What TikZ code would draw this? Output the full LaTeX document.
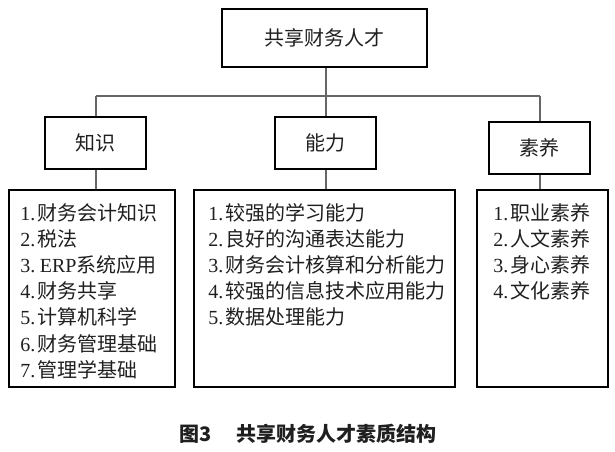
\documentclass[tikz,border=0pt]{standalone}
\usepackage{fontspec}
\setmainfont{Liberation Serif}
\newfontfamily\cjk{Noto Sans CJK SC}
\newcommand{\nm}[1]{#1.\hspace{1.5pt}}
\begin{document}
\begin{tikzpicture}[x=0.75pt,y=-0.75pt,
  txt/.style={font=\fontsize{15pt}{18pt}\selectfont, text=black!88, inner sep=0pt},
  topbox/.style={draw, line width=2.2pt, inner sep=0pt, minimum width=205*0.75pt, minimum height=58*0.75pt},
  midbox/.style={draw, line width=1.4pt, inner sep=0pt, minimum width=101*0.75pt, minimum height=52*0.75pt},
  listbox/.style={draw, line width=1.6pt, inner sep=0pt},
  conn/.style={draw=black!60, line width=0.8pt},
  item/.style={txt, anchor=base west}]
\useasboundingbox (0,0) rectangle (615,451);
% top
\node[topbox, txt] (top) at (324.5,38) {\cjk 共享财务人才};
% middle boxes
\node[midbox, txt] (zs) at (95.5,143) {\cjk 知识};
\node[midbox, txt] (nl) at (325.5,143) {\cjk 能力};
\node[midbox, txt] (sy) at (539.5,148) {\cjk 素养};
% list boxes
\node[listbox, minimum width=166*0.75pt, minimum height=197*0.75pt] (kl) at (92,288.5) {};
\node[listbox, minimum width=261*0.75pt, minimum height=197*0.75pt] (al) at (324.5,288.5) {};
\node[listbox, minimum width=131*0.75pt, minimum height=197*0.75pt] (sl) at (542.5,288.5) {};
% connectors
\coordinate (hc) at (326,96);
\coordinate (hl) at (96,96);
\coordinate (hr) at (540,96);
\draw[conn] (top.south -| hc) -- (hc);
\draw[conn] (hl) -- (hr);
\draw[conn] (hl) -- (hl |- zs.north);
\draw[conn] (hc) -- (hc |- nl.north);
\draw[conn] (hr) -- (hr |- sy.north);
\draw[conn] (hl |- zs.south) -- (hl |- kl.north);
\draw[conn] (hc |- nl.south) -- (hc |- al.north);
\draw[conn] (hr |- sy.south) -- (hr |- sl.north);
% knowledge list
\node[item] (k1) at (20,220) {\nm{1}{\cjk 财务会计知识}};
\node[item] (k2) at (20,246.2) {\nm{2}{\cjk 税法}};
\node[item] (k3) at (20,272.4) {\nm{3}\hspace{2pt}ERP{\cjk 系统应用}};
\node[item] (k4) at (20,298.6) {\nm{4}{\cjk 财务共享}};
\node[item] (k5) at (20,324.8) {\nm{5}{\cjk 计算机科学}};
\node[item] (k6) at (20,351) {\nm{6}{\cjk 财务管理基础}};
\node[item] (k7) at (20,377.2) {\nm{7}{\cjk 管理学基础}};
% ability list
\node[item] (a1) at (208,220) {\nm{1}{\cjk 较强的学习能力}};
\node[item] (a2) at (208,246.2) {\nm{2}{\cjk 良好的沟通表达能力}};
\node[item] (a3) at (208,272.4) {\nm{3}{\cjk 财务会计核算和分析能力}};
\node[item] (a4) at (208,298.6) {\nm{4}{\cjk 较强的信息技术应用能力}};
\node[item] (a5) at (208,324.8) {\nm{5}{\cjk 数据处理能力}};
% quality list
\node[item] (s1) at (493,220) {\nm{1}{\cjk 职业素养}};
\node[item] (s2) at (493,246.2) {\nm{2}{\cjk 人文素养}};
\node[item] (s3) at (493,272.4) {\nm{3}{\cjk 身心素养}};
\node[item] (s4) at (493,298.6) {\nm{4}{\cjk 文化素养}};
% caption
\node[txt, font=\fontsize{15pt}{18pt}\cjk\bfseries] (cap) at (308,434) {图3\hspace{1.2em}共享财务人才素质结构};
\end{tikzpicture}
\end{document}
